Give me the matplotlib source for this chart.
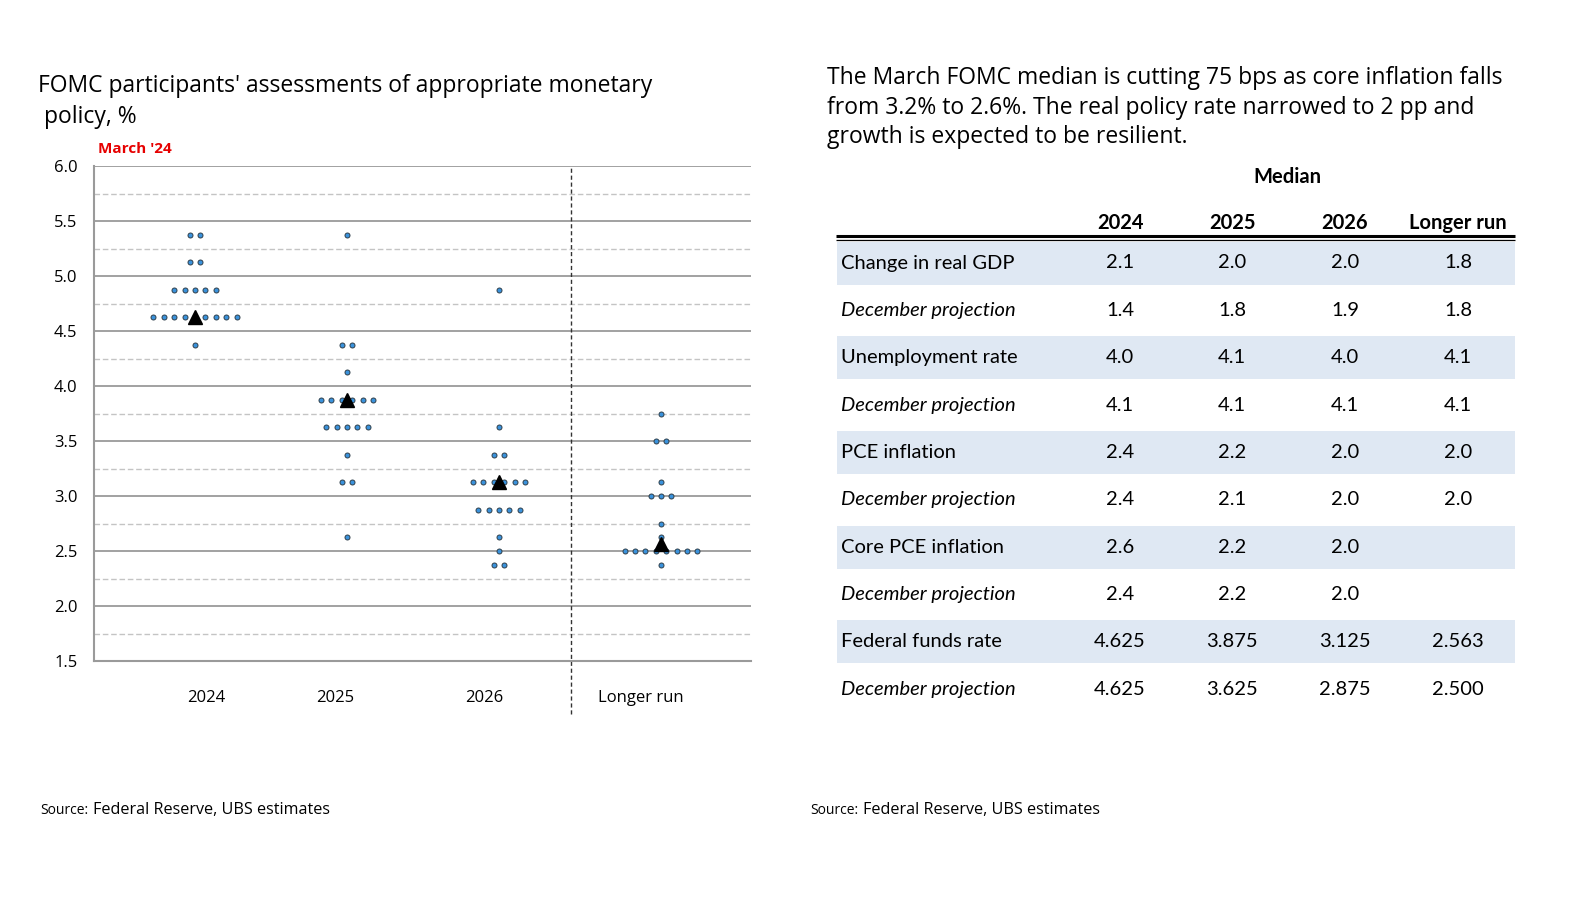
import matplotlib
matplotlib.use('Agg')
import matplotlib.pyplot as plt
from matplotlib.patches import Rectangle

# ---------------- data ----------------
categories = ['2024', '2025', '2026', 'Longer run']
# rate levels and number of participants at each level, per category
levels_2024 = [5.375, 5.125, 4.875, 4.625, 4.375]
counts_2024 = [2, 2, 5, 9, 1]
levels_2025 = [5.375, 4.375, 4.125, 3.875, 3.625, 3.375, 3.125, 2.625]
counts_2025 = [1, 2, 1, 6, 5, 1, 2, 1]
levels_2026 = [4.875, 3.625, 3.375, 3.125, 2.875, 2.625, 2.5, 2.375]
counts_2026 = [1, 1, 2, 6, 5, 1, 1, 2]
levels_lr = [3.75, 3.5, 3.125, 3.0, 2.75, 2.625, 2.5, 2.375]
counts_lr = [1, 2, 1, 3, 1, 1, 8, 1]
medians = [4.625, 3.875, 3.125, 2.5625]
y_ticks = [1.5, 2.0, 2.5, 3.0, 3.5, 4.0, 4.5, 5.0, 5.5, 6.0]

table_years = ['2024', '2025', '2026', 'Longer run']
row_labels = ['Change in real GDP', 'December projection', 'Unemployment rate',
              'December projection', 'PCE inflation', 'December projection',
              'Core PCE inflation', 'December projection', 'Federal funds rate',
              'December projection']
row_values = [
    ['2.1', '2.0', '2.0', '1.8'],
    ['1.4', '1.8', '1.9', '1.8'],
    ['4.0', '4.1', '4.0', '4.1'],
    ['4.1', '4.1', '4.1', '4.1'],
    ['2.4', '2.2', '2.0', '2.0'],
    ['2.4', '2.1', '2.0', '2.0'],
    ['2.6', '2.2', '2.0', ''],
    ['2.4', '2.2', '2.0', ''],
    ['4.625', '3.875', '3.125', '2.563'],
    ['4.625', '3.625', '2.875', '2.500'],
]

title_lines = ["FOMC participants' assessments of appropriate monetary", " policy, %"]
note_lines = ["The March FOMC median is cutting 75 bps as core inflation falls",
              "from 3.2% to 2.6%. The real policy rate narrowed to 2 pp and",
              "growth is expected to be resilient."]

# ---------------- style ----------------
MAIN = ['Open Sans', 'DejaVu Sans']
NARROW = ['Lato', 'Open Sans', 'DejaVu Sans']
RED = '#e60000'
SHADE = '#dfe8f3'

W, H = 1592, 900
fig = plt.figure(figsize=(W / 100, H / 100), dpi=100)

# ---------------- dot plot ----------------
ax_l, ax_r, ax_t, ax_b = 94, 751, 166, 661
ax = fig.add_axes([ax_l / W, 1 - ax_b / H, (ax_r - ax_l) / W, (ax_b - ax_t) / H])
ax.set_xlim(0, 10)
ax.set_ylim(1.5, 6.0)

cat_centers = [1.537, 3.851, 6.164, 8.630]
label_pos = [1.705, 3.668, 5.936, 8.326]
sep_x = 7.260
spacing = 0.158

for y in [2.0, 2.5, 3.0, 3.5, 4.0, 4.5, 5.0, 5.5, 6.0]:
    ax.axhline(y, color='#9a9a9a', lw=1.3, zorder=1)
for y in [1.75, 2.25, 2.75, 3.25, 3.75, 4.25, 4.75, 5.25, 5.75]:
    ax.axhline(y, color='#c4c4c4', lw=1.0, ls=(0, (4, 2)), zorder=1)

all_levels = [levels_2024, levels_2025, levels_2026, levels_lr]
all_counts = [counts_2024, counts_2025, counts_2026, counts_lr]
for cx, lv, ct in zip(cat_centers, all_levels, all_counts):
    xs, ys = [], []
    for y, n in zip(lv, ct):
        for i in range(n):
            xs.append(cx + (i - (n - 1) / 2) * spacing)
            ys.append(y)
    ax.plot(xs, ys, 'o', ms=3.6, mfc='#3a92dc', mec='#2f3f4a', mew=0.7, ls='none', zorder=3)

ax.plot(cat_centers, medians, '^', ms=10, color='black', ls='none', zorder=4)

ax.plot([sep_x, sep_x], [1.02, 6.0], color='#333333', lw=1.0, ls=(0, (3, 2)),
        clip_on=False, zorder=2)

for s in ['top', 'right']:
    ax.spines[s].set_visible(False)
ax.spines['left'].set_color('#9a9a9a')
ax.spines['left'].set_linewidth(1.5)
ax.spines['bottom'].set_color('#9a9a9a')
ax.spines['bottom'].set_linewidth(1.5)

ax.set_yticks(y_ticks)
ax.set_yticklabels([f'{v:.1f}' for v in y_ticks], fontfamily=MAIN, fontsize=12)
ax.tick_params(axis='y', length=0, pad=12)
ax.set_xticks(label_pos)
ax.set_xticklabels(categories, fontfamily=MAIN, fontsize=12)
ax.tick_params(axis='x', length=0, pad=21)

# ---------------- overlay for text & table (pixel coordinates) ----------------
ov = fig.add_axes([0, 0, 1, 1], zorder=-1)
ov.set_xlim(0, W)
ov.set_ylim(H, 0)
ov.axis('off')

ov.text(38, 92, title_lines[0], fontfamily=MAIN, fontsize=16.5, va='baseline', ha='left')
ov.text(38, 123, title_lines[1], fontfamily=MAIN, fontsize=16.5, va='baseline', ha='left')
ov.text(98, 153, "March '24", fontfamily=MAIN, fontsize=11, fontweight='bold',
        color=RED, va='baseline', ha='left')

for i, line in enumerate(note_lines):
    ov.text(827, 84 + i * 29.5, line, fontfamily=MAIN, fontsize=16.5, va='baseline', ha='left')

for x0, x1 in [(40, 93), (810, 863)]:
    ov.text(x0, 814, 'Source:', fontfamily=MAIN, fontsize=10, va='baseline', ha='left')
    ov.text(x1, 814, 'Federal Reserve, UBS estimates', fontfamily=MAIN, fontsize=11.6,
            va='baseline', ha='left')

# table
tab_l, tab_r = 836, 1515
col_x = [1120, 1232, 1345, 1458]
row0, pitch = 263, 47.35

ov.text(1287, 177, 'Median', fontfamily=NARROW, fontsize=14.5, fontweight='bold',
        ha='center', va='center')
for cx, yr in zip(col_x, table_years):
    ov.text(cx, 223, yr, fontfamily=NARROW, fontsize=14.5, fontweight='bold',
            ha='center', va='center')
ov.plot([tab_l, tab_r], [236, 236], color='black', lw=2.2, solid_capstyle='butt')
ov.plot([tab_l, tab_r], [240.2, 240.2], color='black', lw=0.9, solid_capstyle='butt')

for r, (lab, vals) in enumerate(zip(row_labels, row_values)):
    yc = row0 + r * pitch
    if r % 2 == 0:
        ov.add_patch(Rectangle((tab_l + 1, yc - 21.5), tab_r - tab_l - 1, 43,
                               facecolor=SHADE, edgecolor='none', zorder=0))
    style = 'italic' if lab.startswith('December') else 'normal'
    ov.text(841, yc, lab, fontfamily=NARROW, fontsize=14.5, fontstyle=style,
            ha='left', va='center')
    for cx, v in zip(col_x, vals):
        ov.text(cx, yc, v, fontfamily=NARROW, fontsize=14.5, ha='center', va='center')

fig.savefig('out.png', dpi=100)
